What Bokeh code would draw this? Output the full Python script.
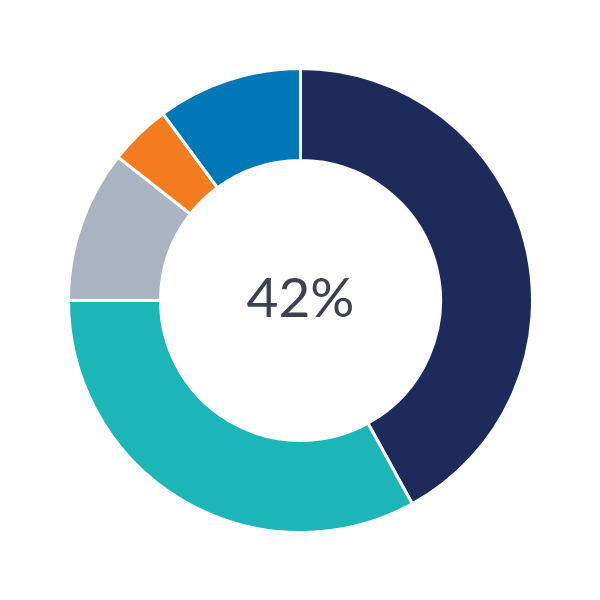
from math import pi

from bokeh.plotting import figure
from bokeh.models import ColumnDataSource, Range1d
from bokeh.core.properties import value
from bokeh.embed import file_html
from bokeh.resources import INLINE

# slices, clockwise from 12 o'clock
labels = ["A", "B", "C", "D", "E"]
shares = [42.0, 33.0, 10.6, 4.3, 10.1]
colors = ["#1c2b5a", "#1cb5b8", "#a9b3c1", "#f47c20", "#0077b6"]
center_label = "42%"

total = sum(shares)
starts, ends = [], []
acc = 0.0
for s in shares:
    starts.append(pi / 2 - acc / total * 2 * pi)
    acc += s
    ends.append(pi / 2 - acc / total * 2 * pi)

source = ColumnDataSource(data=dict(label=labels, share=shares, color=colors,
                                    start=starts, end=ends))

p = figure(width=584, height=584,
           x_range=Range1d(-300, 284), y_range=Range1d(-284, 300),
           output_backend="svg", toolbar_location=None,
           min_border=0)
p.axis.visible = False
p.grid.visible = False
p.outline_line_color = None

p.annular_wedge(x=0, y=0, inner_radius=140, outer_radius=232,
                start_angle="start", end_angle="end", direction="clock",
                fill_color="color", line_color="white", line_width=3,
                source=source)

p.text(x=[0], y=[5], text=[center_label], text_align="center",
       text_baseline="middle", text_font=value("Lato"),
       text_font_size="55px", text_color="#3b4250")

open("out.html", "w").write(file_html(p, INLINE))
